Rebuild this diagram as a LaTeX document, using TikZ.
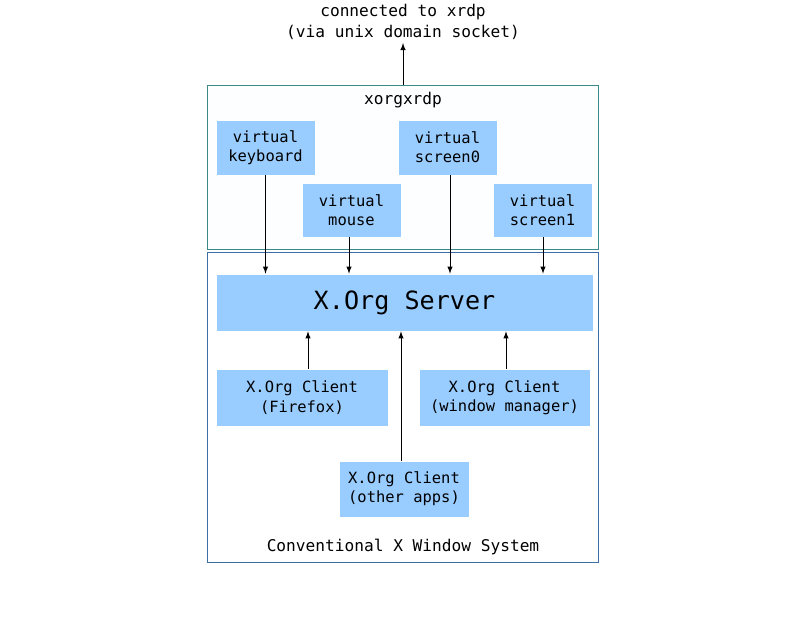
\documentclass[tikz,border=0pt]{standalone}
\usepackage{fontspec}
\setmainfont{DejaVu Sans Mono}
\usepackage{xcolor}
\definecolor{boxblue}{HTML}{99CCFF}
\definecolor{frameteal}{HTML}{3A8A8A}
\definecolor{frameblue}{HTML}{3A6EA5}
\begin{document}
\begin{tikzpicture}[x=0.02cm,y=-0.02cm,
    comp/.style={fill=boxblue,draw=white,inner sep=0,align=center,font=\fontsize{8.8}{11}\selectfont},
    lbl/.style={inner sep=0,align=center,font=\fontsize{9.2}{11.5}\selectfont},
    arr/.style={-latex,thin}]
            \useasboundingbox (0,0) rectangle (800,618);
            % groups
            \draw[frameteal,fill=cyan!1] (207,85) rectangle (598,249);
            \draw[frameblue] (207,252) rectangle (598,562);
            \node[lbl] (xorgxrdp) at (403,100) {xorgxrdp};
            \node[lbl] (xwin) at (403,547) {Conventional X Window System};
            \node[lbl] (top) at (403,22) {connected to xrdp\\(via unix domain socket)};
            \coordinate (topend) at (403,43);

            % components
            \node[comp,minimum width=99*0.02cm,minimum height=55*0.02cm] (kbd) at (265.5,147.5) {virtual\\keyboard};
            \node[comp,minimum width=99*0.02cm,minimum height=54*0.02cm] (mouse) at (351.5,210) {virtual\\mouse};
            \node[comp,minimum width=99*0.02cm,minimum height=55*0.02cm] (scr0) at (447.5,147.5) {virtual\\screen0};
            \node[comp,minimum width=99*0.02cm,minimum height=54*0.02cm] (scr1) at (542.5,210) {virtual\\screen1};
            \node[comp,minimum width=377*0.02cm,minimum height=57*0.02cm,font=\fontsize{14.3}{16}\selectfont] (server) at (404.5,302.5) {X.Org Server};
            \node[comp,minimum width=172*0.02cm,minimum height=57*0.02cm] (firefox) at (302,397.5) {X.Org Client\\(Firefox)};
            \node[comp,minimum width=171*0.02cm,minimum height=57*0.02cm] (wm) at (504.5,397.5) {X.Org Client\\(window manager)};
            \node[comp,minimum width=130*0.02cm,minimum height=56*0.02cm] (other) at (404,489) {X.Org Client\\(other apps)};

            % connectors
            \draw[arr] (kbd.south) ++(0,0) -- (kbd.south |- server.north);
            \draw[arr] (mouse.south -| 349,0) -- (349,0 |- server.north);
            \draw[arr] (scr0.south -| 450,0) -- (450,0 |- server.north);
            \draw[arr] (scr1.south -| 543,0) -- (543,0 |- server.north);
            \draw[arr] (firefox.north -| 308,0) -- (308,0 |- server.south);
            \draw[arr] (wm.north -| 506,0) -- (506,0 |- server.south);
            \draw[arr] (other.north -| 401,0) -- (401,0 |- server.south);
            \draw[arr] (403,85) -- (topend);
\end{tikzpicture}
\end{document}
